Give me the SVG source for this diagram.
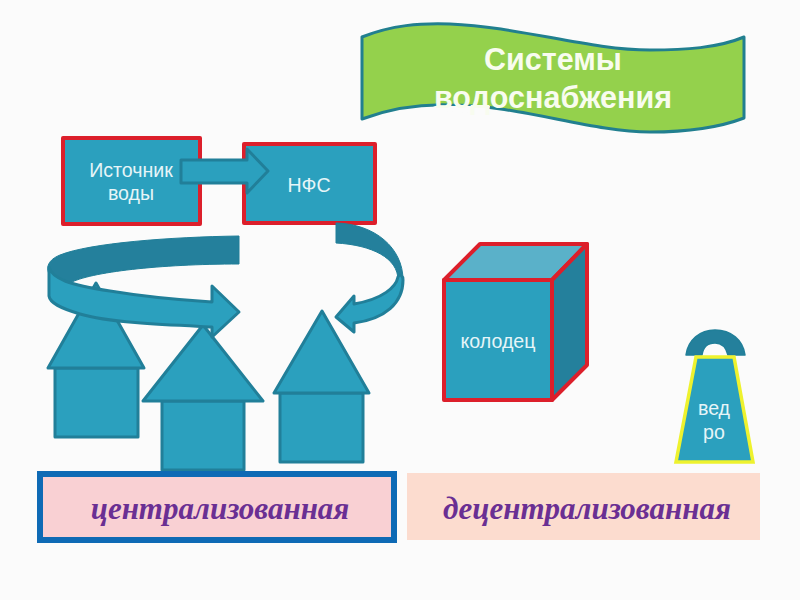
<svg xmlns="http://www.w3.org/2000/svg" width="800" height="600" viewBox="0 0 800 600">
<defs>
<style>
.sans{font-family:"Liberation Sans",Arial,sans-serif;fill:#e6f5f8;font-size:19.6px;text-anchor:middle}
.head{font-family:"Liberation Sans",Arial,sans-serif;fill:#f8fcef;font-size:30.5px;font-weight:bold;text-anchor:middle}
.serif{font-family:"Liberation Serif","Times New Roman",serif;fill:#6a2f93;font-size:31px;font-weight:bold;font-style:italic;text-anchor:middle}
.box{fill:#2ba0be}
.red{stroke:#dc1f2b;stroke-width:4;stroke-linejoin:round}
.edge{stroke:#217f99;stroke-width:3;stroke-linejoin:round}
.dark{fill:#24809c;stroke:#217f99;stroke-width:1}
</style>
</defs>
<rect width="800" height="600" fill="#fbfbfb"/>
<g id="banner">
<path d="M362 37C392 25 420 23 450 24C520 27 590 50 650 50C685 50 718 48 744 37L744 118C718 128 685 132 650 132C590 132 520 105 450 105C420 104 392 108 362 119Z" fill="#94d14c" stroke="#217f8f" stroke-width="3" stroke-linejoin="round"/>
<path d="M433 106L490 106L488 112L470 113L445 111Z" fill="#fbfbfb"/>
<text class="head" x="553" y="70">Системы</text>
<text class="head" x="553" y="108">водоснабжения</text>
</g>
<g id="source">
<rect class="box red" x="63" y="138" width="137" height="86"/>
<text class="sans" x="131" y="177">Источник</text>
<text class="sans" x="131" y="200">воды</text>
</g>
<g id="nfs">
<rect class="box red" x="244" y="144" width="131" height="79"/>
<text class="sans" x="309" y="192">НФС</text>
</g>
<g id="house1">
<rect class="box edge" x="55" y="368" width="83" height="69"/>
<path class="box edge" d="M96 283L144 368L48 368Z"/>
</g>
<g id="house2">
<rect class="box edge" x="162" y="401" width="82" height="69"/>
<path class="box edge" d="M203 325L263 401L143 401Z"/>
</g>
<g id="house3">
<rect class="box edge" x="280" y="393" width="83" height="69"/>
<path class="box edge" d="M322 311L369 393L274 393Z"/>
</g>
<g id="connectors">
<path class="box edge" d="M181 160L247 160L247 149L268 171L247 193L247 183L181 183Z" stroke-width="2"/>
<path class="dark" d="M239 236C170 237 90 243 60 255C48 260 46 267 49 274L70 283C90 272 160 264 239 264Z"/>
<path class="box edge" d="M49 267C52 279 70 285 110 291C140 296 180 300 212 302L212 286L239 312L212 337L212 327C170 325 110 323 80 314C60 308 50 303 49 296Z" stroke-width="2"/>
<path class="dark" d="M336 223C375 224 403 248 403 280L398 280C398 258 372 245 336 243Z"/>
<path class="box edge" d="M398 277C396 287 383 299 354 304L354 296L336 317L354 332L354 323C385 319 403 303 403 280C403 276 400 273 398 277Z" stroke-width="2"/>
</g>
<g id="well">
<path d="M444 280L480 244L587 244L552 280Z" fill="#5ab1c9" class="red"/>
<path d="M552 280L587 244L587 365L552 400Z" fill="#24809c" class="red"/>
<rect class="box red" x="444" y="280" width="108" height="120"/>
<text class="sans" x="498" y="348">колодец</text>
</g>
<g id="bucket">
<path d="M686 355C688 340 700 330 715 330C731 330 743 340 745 355L728 355C726 347 722 343 715 343C708 343 703 347 702 355Z" fill="#24809c" stroke="#217f99" stroke-width="1.5" stroke-linejoin="round"/>
<path d="M696 357L734 357L753 462L676 462Z" fill="#2ba0be" stroke="#eef22e" stroke-width="3.5" stroke-linejoin="miter"/>
<text class="sans" x="714" y="415">вед</text>
<text class="sans" x="714" y="439">ро</text>
</g>
<g id="central">
<rect x="40" y="474" width="354" height="66" fill="#f9d0d3" stroke="#0e6ab5" stroke-width="6"/>
<text class="serif" x="220" y="519">централизованная</text>
</g>
<g id="decentral">
<rect x="407" y="473" width="353" height="67" fill="#fcdccf"/>
<text class="serif" x="587" y="519">децентрализованная</text>
</g>
</svg>
